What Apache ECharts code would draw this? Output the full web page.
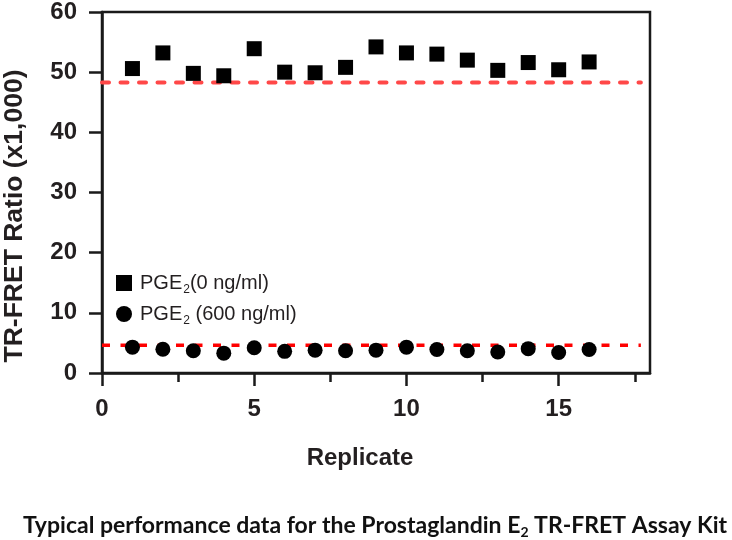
<!DOCTYPE html>
<html>
<head>
<meta charset="utf-8">
<script src="https://cdn.jsdelivr.net/npm/echarts@6/dist/echarts.min.js"></script>
<style>html,body{margin:0;padding:0;background:#fff}#c{width:732px;height:540px}</style>
</head>
<body>
<div id="c"></div>
<script>
var replicates = [1,2,3,4,5,6,7,8,9,10,11,12,13,14,15,16];
var pge0 = [50.6,53.2,49.8,49.4,53.9,50.0,49.9,50.8,54.2,53.2,53.0,52.0,50.3,51.6,50.4,51.7];
var pge600 = [4.3,3.95,3.7,3.3,4.2,3.6,3.8,3.7,3.8,4.3,3.9,3.7,3.5,4.05,3.4,3.9];
var refLineX = [0, 17.7];
var refHigh = 48.3;
var refLow = 4.6;
var xMajorTicks = [0,5,10,15];
var xMinorTicks = [2.5,7.5,12.5,17.5];
var yTicks = [0,10,20,30,40,50,60];
var seriesNames = ['PGE2 (0 ng/ml)', 'PGE2 (600 ng/ml)'];
var legendLabels = {'PGE2 (0 ng/ml)': 'PGE{s|2}(0 ng/ml)', 'PGE2 (600 ng/ml)': 'PGE{s|2} (600 ng/ml)'};

var txt = '#231f20';
var chart = echarts.init(document.getElementById('c'));
var axisFont = {fontFamily: 'Liberation Sans', fontWeight: 'bold', fontSize: 24, color: txt};
chart.setOption({
  animation: false,
  grid: {left: 102, top: 8, right: 82, bottom: 167, show: true, borderColor: '#1a1a1a', borderWidth: 2.5, backgroundColor: 'transparent'},
  xAxis: [{
    type: 'value', min: 0, max: 18, position: 'bottom',
    axisLine: {show: true, onZero: false, lineStyle: {color: '#1a1a1a', width: 2.5}},
    axisTick: {show: true, length: 13, customValues: xMajorTicks, lineStyle: {color: '#1a1a1a', width: 2.5}},
    axisLabel: Object.assign({margin: 24, customValues: xMajorTicks}, axisFont),
    splitLine: {show: false}
  }, {
    type: 'value', min: 0, max: 18, position: 'bottom',
    axisLine: {show: false, onZero: false},
    axisTick: {show: true, length: 9, customValues: xMinorTicks, lineStyle: {color: '#1a1a1a', width: 2.5}},
    axisLabel: {show: false},
    splitLine: {show: false}
  }],
  yAxis: {
    type: 'value', min: 0, max: 60, interval: 10,
    axisLine: {show: true, lineStyle: {color: '#1a1a1a', width: 2.5}},
    axisTick: {show: true, length: 13, customValues: yTicks, lineStyle: {color: '#1a1a1a', width: 2.5}},
    axisLabel: Object.assign({margin: 25, customValues: yTicks}, axisFont),
    splitLine: {show: false}
  },
  legend: {
    orient: 'vertical', left: 111, top: 268, itemWidth: 16, itemHeight: 16, itemGap: 8,
    data: [{name: seriesNames[0], icon: 'rect'}, {name: seriesNames[1], icon: 'circle'}],
    formatter: function (n) { return legendLabels[n]; },
    textStyle: {fontFamily: 'Liberation Sans', fontSize: 20, color: txt, lineHeight: 20, padding: [0,0,0,3],
      rich: {s: {fontFamily: 'Liberation Sans', fontSize: 12, color: txt, padding: [14,0,0,1]}}}
  },
  title: {
    text: 'Typical performance data for the Prostaglandin E{s|2} TR-FRET Assay Kit',
    left: 18, top: 508,
    textStyle: {fontFamily: 'Lato', fontWeight: 'bold', fontSize: 23, color: '#111',
      rich: {s: {fontFamily: 'Lato', fontWeight: 'bold', fontSize: 14, color: '#111', padding: [12,0,0,0]}}}
  },
  graphic: [{
    type: 'text', x: 15, y: 216, rotation: Math.PI / 2,
    style: {text: 'TR-FRET Ratio (x1,000)', fontFamily: 'Liberation Sans', fontWeight: 'bold', fontSize: 26.5, fill: txt, align: 'center', verticalAlign: 'middle'}
  }, {
    type: 'text', x: 360, y: 458,
    style: {text: 'Replicate', fontFamily: 'Liberation Sans', fontWeight: 'bold', fontSize: 24, fill: txt, align: 'center', verticalAlign: 'middle'}
  }],
  series: [{
    type: 'line', z: 1, symbol: 'none', silent: true,
    data: refLineX.map(function (x) { return [x, refHigh]; }),
    lineStyle: {color: '#ff4848', width: 4, type: [7, 11.5], cap: 'round'}
  }, {
    type: 'line', z: 1, symbol: 'none', silent: true,
    data: refLineX.map(function (x) { return [x, refLow]; }),
    lineStyle: {color: '#ff0000', width: 3.5, type: [8, 10.5], cap: 'butt'}
  }, {
    name: seriesNames[0], type: 'scatter', z: 3, symbol: 'rect', symbolSize: 15,
    itemStyle: {color: '#000', opacity: 1},
    data: replicates.map(function (r, i) { return [r, pge0[i]]; })
  }, {
    name: seriesNames[1], type: 'scatter', z: 3, symbol: 'circle', symbolSize: 15,
    itemStyle: {color: '#000', opacity: 1},
    data: replicates.map(function (r, i) { return [r, pge600[i]]; })
  }]
});
</script>
</body>
</html>
